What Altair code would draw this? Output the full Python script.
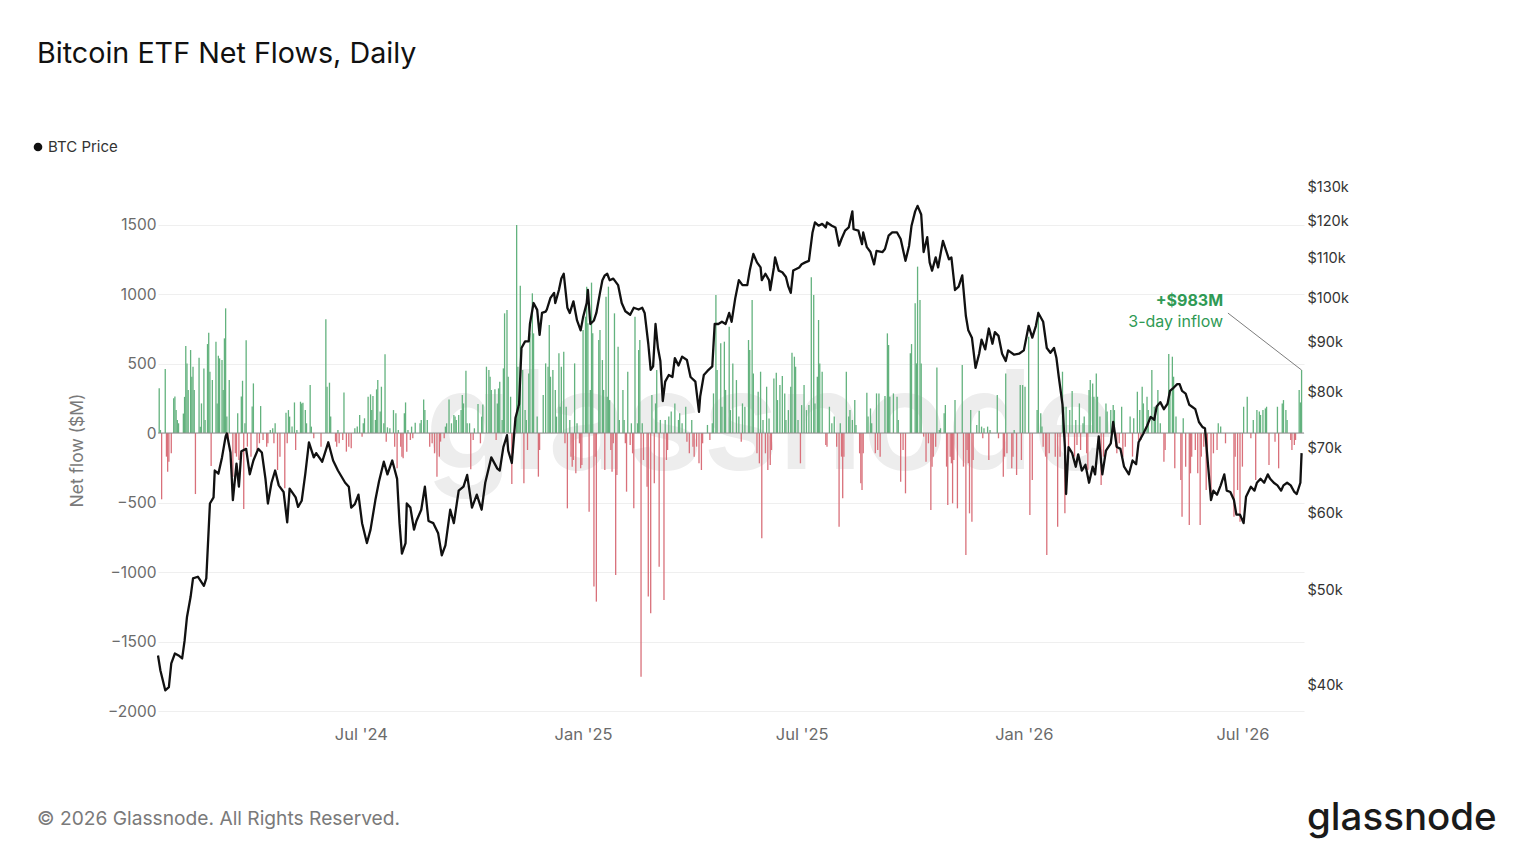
import altair as alt
import pandas as pd

START = pd.Timestamp("2024-01-15")  # day 0 of the day indexes below

# Daily net flows ($M): (day index since START, value)
inflows = [
    (1,322),(2,22),(6,460),(13,250),(14,262),(15,165),(16,94),(17,70),(21,140),(22,260),(23,626),(24,500),(25,310),
    (27,597),(28,405),(29,477),(30,310),(34,542),(35,45),(36,213),(38,465),(39,94),(41,640),(42,722),(43,441),(45,381),
    (48,657),(49,213),(50,556),(51,537),(53,525),(54,310),(55,681),(56,897),(57,118),(59,381),(66,142),(69,262),(70,376),
    (72,70),(73,667),(78,190),(79,357),(85,194),(93,22),(95,34),(97,70),(106,146),(108,165),(109,118),(111,46),(113,220),
    (115,22),(118,225),(119,213),(120,218),(122,165),(123,70),(126,345),(127,46),(139,818),(140,333),(142,362),(143,118),
    (149,22),(154,292),
    (163,34),(165,46),(167,130),(170,70),(171,106),(174,261),(176,278),(177,165),(178,266),(180,94),(181,314),(182,381),
    (184,154),(185,333),(187,70),(188,566),(190,41),(192,34),(195,165),(197,142),(199,22),(204,142),(205,220),(207,22),
    (210,46),(213,74),(217,70),(218,94),(220,242),(221,165),(223,94),(238,46),(239,70),(241,242),(243,70),(245,130),
    (246,118),(247,94),(249,130),(251,165),(252,273),(253,213),(255,448),(256,70),(258,70),(262,34),(265,209),(268,118),
    (269,206),(272,477),(274,453),(275,405),(276,310),(279,314),(281,213),(282,321),(283,369),(285,94),(286,465),(287,861),
    (289,885),(290,405),(292,261),(297,1496),(298,477),(299,189),(300,1060),(302,453),(304,165),(305,94),(307,429),
    (308,717),(310,1005),(311,717),(314,118),
    (319,273),(321,501),(323,477),(324,777),(325,405),(327,453),(329,310),(330,118),(332,573),(333,189),(334,477),
    (336,585),(338,189),(341,94),(345,501),(347,70),(352,741),(354,837),(355,1053),(356,789),(358,310),(359,1082),
    (360,717),(365,669),(366,741),(368,525),(369,310),(371,981),(372,261),(373,1053),(374,237),(378,861),(381,621),
    (382,94),(385,309),(386,94),(389,441),(392,70),(395,837),(397,70),(398,597),(399,669),(401,70),(409,273),(412,213),
    (413,453),(416,94),(420,94),(423,118),(425,154),(428,213),(431,94),(432,142),(434,70),(437,189),(442,94),(455,58),
    (459,70),(460,285),(462,993),(463,453),(466,645),(467,189),(469,657),(470,310),(473,765),(474,165),(476,501),
    (479,381),(481,118),(484,213),(486,189),(489,669),(490,597),(492,957),(493,429),(497,297),(499,441),(501,94),
    (504,333),(506,105),(510,393),(512,434),(513,237),(515,345),(517,410),(519,285),(520,94),(522,165),(524,333),
    (525,578),(527,549),(528,477),(530,94),(533,201),(535,345),(537,165),(539,201),(541,1120),(543,993),(544,213),
    (546,405),(547,813),(548,501),(550,441),(556,189),(558,70),(560,118),(565,70),(570,441),(572,118),(573,165),(575,94),
    (577,237),(578,58),(587,290),(588,118),(590,177),(591,70),(595,285),(597,285),(602,266),(604,717),(605,633),
    (606,261),(609,285),(612,261),(613,94),(623,573),(624,640),(627,933),(628,501),(629,1197),(631,957),(632,501),
    (645,472),(647,22),(648,34),(651,142),(652,201),(660,237),(666,489),(673,165),(678,58),(680,161),(682,46),(684,34),
    (687,46),(689,22),(695,273),(702,429),(709,22),(714,345),(716,345),(718,333),(721,693),(728,165),(729,873),(731,142),
    (732,46),(749,441),(750,189),(752,189),(755,165),(757,302),(760,94),(763,213),(766,70),(767,118),(771,309),(772,381),
    (774,357),(775,261),(777,429),(778,261),(780,118),(785,213),(786,154),(789,165),(791,201),(792,165),(798,189),
    (805,118),(808,106),(811,297),(813,165),(815,333),(816,213),(819,261),(820,165),(823,453),(825,189),(826,118),
    (828,309),(830,70),(837,568),(838,309),(840,549),(841,405),(843,118),(849,106),(878,70),(880,46),(899,189),(902,261),
    (907,94),(910,165),(912,154),(913,130),(915,165),(917,177),(918,189),(927,189),(931,213),(932,237),(934,165),(935,94),
    (945,310),(946,220),(947,453),
]

outflows = [
    (3,-477),(7,-170),(8,-278),(9,-206),(11,-146),(31,-439),(44,-237),(58,-50),(62,-314),(64,-146),(65,-170),(67,-194),
    (71,-547),(74,-98),(77,-170),(82,-122),(84,-74),(87,-50),(90,-98),(91,-74),(96,-74),(99,-266),(101,-170),(105,-398),
    (107,-74),(114,-122),(129,-38),(135,-98),(147,-62),(148,-98),(150,-74),(153,-50),(156,-134),
    (158,-98),(160,-110),(169,-26),(189,-62),(196,-98),(198,-254),(201,-98),(202,-170),(203,-182),(206,-134),(209,-50),
    (211,-38),(225,-98),(227,-74),(229,-146),(231,-314),(233,-170),(234,-62),(237,-38),(259,-261),(261,-50),(267,-74),
    (280,-50),(293,-367),(294,-146),(303,-362),(306,-122),(315,-314),(316,-122),
    (337,-74),(339,-542),(342,-170),(343,-242),(344,-194),(346,-290),(349,-74),(350,-254),(351,-230),(357,-566),
    (361,-1105),(362,-170),(363,-1213),(370,-266),(375,-122),(376,-278),(377,-74),(379,-1021),(380,-302),(387,-74),
    (388,-422),(391,-86),(393,-146),(394,-542),(400,-1753),(402,-194),(405,-386),(406,-1177),(408,-1297),(411,-362),
    (415,-962),(419,-1201),(421,-194),(422,-122),(438,-62),(440,-146),(443,-98),(444,-170),(446,-98),(448,-218),
    (450,-266),(451,-74),(457,-50),
    (483,-62),(496,-146),(498,-218),(500,-758),(503,-146),(505,-266),(507,-230),(508,-122),(532,-218),(553,-86),(554,-98),
    (562,-98),(564,-674),(566,-170),(567,-470),(568,-170),(581,-146),(582,-362),(583,-410),(584,-146),(594,-146),
    (596,-122),(598,-170),(615,-350),(617,-122),(619,-434),(634,-26),(636,-206),(638,-74),(640,-554),(641,-242),
    (642,-170),(644,-98),(653,-242),(654,-518),(656,-170),(657,-218),(658,-506),(659,-194),(662,-542),(667,-242),
    (669,-878),(670,-122),(671,-218),(672,-578),(674,-638),(675,-194),(683,-38),(688,-194),(696,-38),(700,-314),
    (701,-170),(703,-146),(707,-254),(708,-170),(711,-302),(715,-194),(722,-590),(724,-338),(733,-98),(735,-170),
    (736,-878),(738,-146),(743,-170),(745,-674),(747,-170),(751,-578),(754,-122),(759,-170),(761,-86),(764,-122),
    (769,-146),(770,-266),(781,-374),(783,-170),(793,-98),(794,-146),(796,-74),(799,-170),(801,-98),
    (807,-170),(812,-50),(814,-50),(833,-206),(834,-122),(842,-254),(847,-338),(848,-602),(851,-242),(854,-662),
    (855,-290),(856,-170),(859,-122),(861,-290),(863,-662),(864,-170),(866,-98),(868,-410),(869,-218),(872,-482),
    (874,-146),(877,-122),(884,-74),(891,-602),(892,-170),(894,-410),(896,-638),(898,-242),(905,-38),(909,-338),
    (920,-230),(925,-62),(928,-254),(938,-50),(939,-122),(941,-86),(942,-50),
]

# BTC price ($k): (day index since START, price)
btc_price = [
    (0,42.9),(2,41.4),(6,39.5),(9,39.8),(11,42.1),(14,43.1),(17,42.9),(20,42.6),(22,44.4),(24,47.0),(27,49.3),(29,51.5),
    (33,51.7),(38,50.6),(40,51.5),(43,61.5),(46,62.4),(47,66.5),(50,66.0),(53,68.6),(56,72.1),(57,72.6),(60,69.4),
    (61,65.7),(62,62.0),(65,67.6),(67,64.0),(69,69.6),(73,70.0),(76,65.9),(79,68.1),(83,70.0),(86,69.4),(89,65.2),
    (91,61.5),(94,64.6),(97,66.5),(100,64.2),(104,63.2),(107,58.8),(109,63.7),(114,62.4),(116,61.0),(119,61.9),
    (122,66.0),(125,71.1),(129,68.6),(131,69.3),(136,67.9),(141,71.1),(145,68.1),(149,66.5),(155,64.6),(158,64.0),
    (160,60.9),(163,61.4),(166,62.8),(169,58.7),(173,56.0),(176,57.8),(180,62.0),(183,64.8),(187,67.9),(190,65.9),
    (194,68.1),(198,65.2),(200,58.7),(202,54.6),(205,56.0),(206,61.5),(209,60.9),(212,57.8),(214,59.0),(218,60.6),
    (221,64.0),(224,59.0),(228,58.7),(232,57.3),(235,54.4),(238,55.7),(242,60.6),(245,58.7),(249,63.4),(253,64.0),
    (256,65.8),(260,60.9),(264,62.8),(268,60.6),(271,64.6),(276,68.6),(281,66.8),(283,66.5),(286,70.3),(289,72.3),
    (290,69.7),(293,67.7),(296,75.3),(299,77.8),(301,88.9),(304,90.3),(307,90.3),(308,94.1),(311,98.9),(314,97.3),
    (316,91.7),(318,96.6),(321,96.9),(322,97.4),(325,100.1),(328,101.3),(329,98.9),(332,102.0),(334,104.8),(336,106.0),
    (339,97.8),(341,96.6),(344,99.3),(347,94.9),(350,92.7),(352,95.6),(355,98.9),(356,102.0),(358,94.1),(361,94.9),
    (363,96.6),(366,101.3),(368,104.4),(370,105.6),(372,106.0),(374,104.4),(377,104.8),(381,103.2),(384,98.9),(387,97.0),
    (391,96.2),(394,97.8),(398,97.4),(401,97.8),(403,96.6),(406,89.8),(408,84.4),(410,85.1),(412,94.1),(414,88.9),
    (416,86.2),(418,78.4),(420,82.1),(423,83.4),(426,83.0),(428,86.8),(431,85.3),(434,87.1),(438,86.4),(441,83.0),
    (445,82.1),(448,76.4),(449,79.3),(452,83.4),(455,84.2),(459,85.1),(461,94.1),(464,94.1),(467,94.6),(470,94.1),
    (473,96.6),(475,94.6),(478,100.0),(481,104.4),(484,103.2),(488,103.2),(490,106.8),(493,111.1),(496,108.9),
    (499,107.6),(500,104.4),(503,106.0),(506,104.4),(507,102.0),(510,107.6),(511,110.2),(514,106.8),(517,106.4),
    (520,105.2),(522,102.8),(524,101.3),(526,106.8),(531,107.6),(533,108.4),(536,108.9),(539,109.3),(542,116.9),
    (544,119.7),(547,118.8),(550,119.3),(553,118.3),(554,119.7),(558,118.8),(561,118.3),(564,113.3),(566,115.1),
    (569,117.4),(572,118.3),(575,122.9),(576,117.8),(580,117.4),(583,113.7),(584,116.9),(587,112.9),(590,111.6),
    (593,108.4),(595,111.9),(600,111.6),(602,112.4),(605,116.0),(608,116.9),(612,116.9),(615,115.1),(619,109.3),
    (622,113.3),(624,118.8),(627,122.9),(629,124.5),(632,122.0),(634,111.6),(637,115.6),(639,108.9),(641,106.8),
    (644,110.2),(646,107.6),(650,114.6),(655,109.7),(657,110.2),(660,102.0),(663,102.8),(666,105.6),(669,95.9),
    (671,92.7),(674,91.1),(677,84.8),(680,87.7),(682,90.7),(685,88.6),(688,93.1),(691,89.8),(693,92.3),(696,91.5),
    (699,87.7),(702,86.2),(704,88.4),(709,87.5),(713,87.7),(717,88.4),(721,93.7),(724,91.1),(727,93.7),(729,96.6),
    (733,94.6),(736,88.9),(739,87.9),(742,88.9),(744,86.8),(746,82.9),(749,77.8),(751,70.3),(752,62.9),(754,70.3),
    (757,69.3),(760,67.1),(762,69.1),(765,66.5),(768,67.4),(771,64.6),(774,67.1),(776,65.9),(779,72.1),(782,65.9),
    (785,69.7),(789,70.9),(791,74.6),(794,70.3),(797,70.0),(800,67.1),(804,65.9),(807,68.1),(810,67.5),(812,71.1),
    (816,72.6),(819,73.9),(822,75.5),(825,75.0),(827,77.4),(830,78.2),(833,76.9),(836,77.9),(838,80.3),(841,80.9),
    (844,81.6),(846,81.6),(848,80.3),(851,79.8),(854,77.7),(856,77.4),(859,76.9),(862,74.6),(865,73.7),(867,73.5),
    (869,68.6),(872,62.0),(874,63.4),(877,62.8),(880,64.2),(883,65.9),(885,63.4),(888,63.2),(891,62.0),(893,59.9),
    (896,59.9),(899,58.7),(901,62.5),(905,64.0),(908,63.4),(910,64.6),(913,65.2),(916,64.6),(919,65.9),(921,65.2),
    (924,64.6),(927,64.2),(930,63.4),(932,64.2),(935,64.6),(938,64.2),(941,63.2),(943,62.9),(946,64.6),(947,69.3),
]

flow_ticks = [-2000, -1500, -1000, -500, 0, 500, 1000, 1500]
price_ticks_k = [40, 50, 60, 70, 80, 90, 100, 110, 120, 130]
date_ticks = [(2024, 7), (2025, 1), (2025, 7), (2026, 1), (2026, 7)]

title_text = "Bitcoin ETF Net Flows, Daily"
legend_text = "BTC Price"
footer_text = "\u00a9 2026 Glassnode. All Rights Reserved."
logo_text = "glassnode"
annot_big = "+$983M"
annot_small = "3-day inflow"
# annotation anchors: (day index, flow value)
annot_big_pos = (882, 914)
annot_small_pos = (882, 763)
annot_line = [(886, 863), (947, 453)]


def frame(pairs, col):
    df = pd.DataFrame(pairs, columns=["day", col])
    df["date"] = START + pd.to_timedelta(df["day"], unit="D")
    return df


df_in = frame(inflows, "flow")
df_out = frame(outflows, "flow")
df_in["base"] = 0
df_out["base"] = 0
df_price = frame(btc_price, "price")
df_zero = frame([(0, 0)], "flow")
df_line = frame(annot_line, "flow")
df_big = frame([annot_big_pos], "flow")
df_big["t"] = annot_big
df_small = frame([annot_small_pos], "flow")
df_small["t"] = annot_small

FONT = "Inter"
GREEN = "#63b27e"
RED = "#d9707a"
ANNOT_GREEN = "#2f9a55"

x_scale = alt.Scale(domain=[alt.DateTime(year=2024, month=1, date=15),
                            alt.DateTime(year=2026, month=8, date=21)])
y_flow_scale = alt.Scale(domain=[-2000, 1770], nice=False, zero=False)

x_axis = alt.Axis(values=[alt.DateTime(year=y, month=m, date=1) for y, m in date_ticks],
                  format="%b '%y", labelColor="#6b6b6b", labelFontSize=16.5, labelFont=FONT,
                  ticks=False, domain=False, grid=False, labelPadding=15, title=None)

y_axis = alt.Axis(values=flow_ticks, format="d", title="Net flow ($M)", titleColor="#7a7a7a",
                  titleFontSize=17.5, titleFontWeight="normal", titleFont=FONT, titleX=-72, titleY=263,
                  labelColor="#6b6b6b", labelFontSize=15.5, labelFont=FONT, labelPadding=2,
                  ticks=False, domain=False, gridColor="#efefef", gridWidth=1)

watermark = alt.Chart(pd.DataFrame({"t": [logo_text]})).mark_text(
    font=FONT, fontSize=138, fontWeight=600, color="#ededed", align="center", baseline="alphabetic"
).encode(x=alt.value(612), y=alt.value(282), text="t:N")

X = alt.X("date:T", scale=x_scale)
Y = alt.Y("flow:Q", scale=y_flow_scale)

bars_in = alt.Chart(df_in).mark_rule(color=GREEN, strokeWidth=1.3).encode(
    x=alt.X("date:T", scale=x_scale, axis=x_axis),
    y=alt.Y("flow:Q", scale=y_flow_scale, axis=y_axis),
    y2="base:Q",
)
bars_out = alt.Chart(df_out).mark_rule(color=RED, strokeWidth=1.3).encode(x=X, y=Y, y2="base:Q")
zero_rule = alt.Chart(df_zero).mark_rule(color="#8c8c8c", strokeWidth=1).encode(y=Y)
annot_rule = alt.Chart(df_line).mark_line(color="#7d7d7d", strokeWidth=1).encode(x=X, y=Y)
annot_big_txt = alt.Chart(df_big).mark_text(
    font=FONT, fontSize=16, fontWeight="bold", align="right", baseline="alphabetic", color=ANNOT_GREEN
).encode(x=X, y=Y, text="t:N")
annot_small_txt = alt.Chart(df_small).mark_text(
    font=FONT, fontSize=16, fontWeight="normal", align="right", baseline="alphabetic", color=ANNOT_GREEN
).encode(x=X, y=Y, text="t:N")

title = alt.Chart(pd.DataFrame({"t": [title_text]})).mark_text(
    font=FONT, fontSize=28.7, color="#111111", align="left", baseline="alphabetic"
).encode(x=alt.value(-121), y=alt.value(-124), text="t:N")
legend_dot = alt.Chart(pd.DataFrame({"t": [legend_text]})).mark_circle(
    color="#111111", size=75, opacity=1
).encode(x=alt.value(-120), y=alt.value(-40))
legend_txt = alt.Chart(pd.DataFrame({"t": [legend_text]})).mark_text(
    font=FONT, fontSize=15, color="#333333", align="left", baseline="middle"
).encode(x=alt.value(-110), y=alt.value(-40), text="t:N")
footer = alt.Chart(pd.DataFrame({"t": [footer_text]})).mark_text(
    font=FONT, fontSize=19.2, color="#7a7a7a", align="left", baseline="alphabetic"
).encode(x=alt.value(-121), y=alt.value(638), text="t:N")
logo = alt.Chart(pd.DataFrame({"t": [logo_text]})).mark_text(
    font=FONT, fontSize=38.5, fontWeight=500, color="#1a1a1a", align="left", baseline="alphabetic"
).encode(x=alt.value(1149), y=alt.value(643), text="t:N")

flows_layer = alt.layer(watermark, bars_in, bars_out, zero_rule, annot_rule, annot_big_txt,
                        annot_small_txt, title, legend_dot, legend_txt, footer, logo)

price_line = alt.Chart(df_price).mark_line(color="#111111", strokeWidth=2.3, strokeJoin="round").encode(
    x=X,
    y=alt.Y("price:Q",
            scale=alt.Scale(type="log", domain=[37.61, 130.2], nice=False, zero=False),
            axis=alt.Axis(orient="right", values=price_ticks_k, labelExpr="'$' + datum.value + 'k'",
                          labelColor="#333333", labelFontSize=14.5, labelFont=FONT, labelPadding=3,
                          ticks=False, domain=False, grid=False, title=None)),
)

chart = alt.layer(flows_layer, price_line).resolve_scale(y="independent").properties(
    width=1146, height=524,
    autosize=alt.AutoSizeParams(type="none"),
    padding={"left": 150, "top": 179, "right": 215, "bottom": 138},
    background="white",
).configure(font=FONT, view=alt.ViewConfig(strokeWidth=0))

chart.save("out.html", embed_options={"renderer": "svg", "actions": False})
